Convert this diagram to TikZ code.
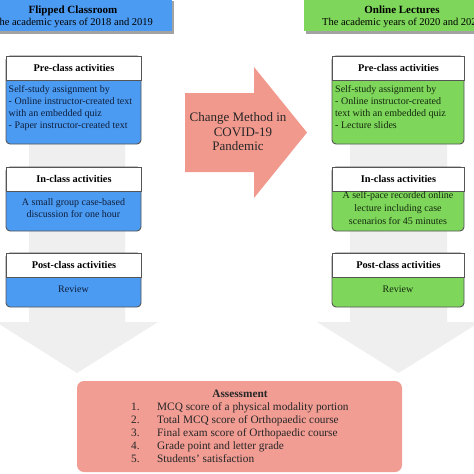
\documentclass[tikz,border=0pt]{standalone}
\usepackage{fontspec}
\setmainfont{Liberation Serif}
\usetikzlibrary{shadows}
\definecolor{fcblue}{HTML}{4C9BF2}
\definecolor{olgreen}{HTML}{7ED65B}
\definecolor{salmonarrow}{HTML}{F2998E}
\definecolor{asspink}{HTML}{F19D94}
\definecolor{grayband}{HTML}{EFEFEF}
\definecolor{edgegray}{HTML}{555555}
\definecolor{bluetext}{HTML}{0E1E3C}
\definecolor{greentext}{HTML}{14280E}
\tikzset{
  bodybox/.style={draw=edgegray, line width=0.9pt, rounded corners=4pt},
  hdrbox/.style={draw=edgegray, line width=0.9pt, fill=white, minimum width=135pt,
    minimum height=24pt, inner sep=0pt, anchor=north west,
    font=\bfseries\fontsize{10.3}{11}\selectfont},
  btxt/.style={font=\fontsize{10}{12}\selectfont, inner sep=0pt},
  titlebox/.style={minimum height=33pt, inner sep=0pt,
    drop shadow={shadow xshift=2pt, shadow yshift=-3pt, fill=black!60, opacity=.6}},
  titletxt/.style={align=center, inner sep=0pt, font=\fontsize{10.5}{12}\selectfont},
  bigarrow/.style={fill=grayband, draw=none}
}
\begin{document}
\begin{tikzpicture}[x=1pt,y=-1pt]
\useasboundingbox (0,0) rectangle (474,474);
\clip (0,0) rectangle (474,474);
\fill[white] (0,0) rectangle (474,474);

% gray flow arrows
\path[bigarrow] (29,60) -- (125,60) -- (125,322) -- (158,322) -- (77,373) -- (-4,322) -- (29,322) -- cycle;
\path[bigarrow] (350,60) -- (447,60) -- (447,322) -- (480,322) -- (398.5,373) -- (317,322) -- (350,322) -- cycle;

% title boxes
\node[titlebox, fill=fcblue, minimum width=198pt] (ltitle) at (73,14.5) {};
\node[titletxt] (ltitletxt) at (73,17) {{\bfseries\fontsize{11}{12}\selectfont Flipped Classroom}\\The academic years of 2018 and 2019};
\node[titlebox, fill=olgreen, minimum width=196pt] (rtitle) at (402,14.5) {};
\node[titletxt] (rtitletxt) at (402,17) {{\bfseries\fontsize{11}{12}\selectfont Online Lectures}\\The academic years of 2020 and 2021};

% left column
\draw[bodybox, fill=fcblue] (6,56) rectangle (141,144);
\node[hdrbox] (lpreh) at (6,56) {Pre-class activities};
\node[btxt, text=bluetext, anchor=north west, align=left] (lpreb) at (8.5,85)
  {Self-study assignment by\\- Online instructor-created text\\with an embedded quiz\\- Paper instructor-created text};

\draw[bodybox, fill=fcblue] (6,167) rectangle (141,231);
\node[hdrbox] (linh) at (6,167) {In-class activities};
\node[btxt, text=bluetext, align=center] (linb) at (73.5,208.5)
  {A small group case-based\\discussion for one hour};

\draw[bodybox, fill=fcblue] (6,253) rectangle (141,307);
\node[hdrbox] (lposth) at (6,253) {Post-class activities};
\node[btxt, text=bluetext] (lpostb) at (73.5,289) {Review};

% right column
\draw[bodybox, fill=olgreen] (332,56) rectangle (464,144);
\node[hdrbox, minimum width=132pt] (rpreh) at (332,56) {Pre-class activities};
\node[btxt, text=greentext, anchor=north west, align=left] (rpreb) at (335,85)
  {Self-study assignment by\\- Online instructor-created\\text with an embedded quiz\\- Lecture slides};

\draw[bodybox, fill=olgreen] (332,167) rectangle (464,231);
\node[hdrbox, minimum width=132pt] (rinh) at (332,167) {In-class activities};
\node[btxt, text=greentext, align=center, font=\fontsize{10}{13}\selectfont] (rinb) at (398,208.5)
  {A self-pace recorded online\\lecture including case\\scenarios for 45 minutes};

\draw[bodybox, fill=olgreen] (332,253) rectangle (464,307);
\node[hdrbox, minimum width=132pt] (rposth) at (332,253) {Post-class activities};
\node[btxt, text=greentext] (rpostb) at (398,289) {Review};

% change arrow
\fill[salmonarrow] (185,93) -- (254,93) -- (254,67) -- (307,132.5) -- (254,198) -- (254,172) -- (185,172) -- cycle;
\node[align=center, inner sep=0pt, font=\fontsize{13}{14.5}\selectfont, text=black!85] (changetxt) at (238,132)
  {Change Method in\\\hspace*{10pt}COVID-19\\Pandemic};

% assessment
\fill[asspink, rounded corners=7pt] (77,381) rectangle (402,472);
\node[inner sep=0pt, font=\bfseries\fontsize{11.3}{13}\selectfont, text=black!85] (asstitle) at (240,394) {Assessment};
\node[inner sep=0pt, anchor=north west, font=\fontsize{11.3}{13}\selectfont, text=black!85] (asslist) at (131,401)
  {\begin{tabular}{@{}p{26pt}@{}l@{}}
  1. & MCQ score of a physical modality portion\\
  2. & Total MCQ score of Orthopaedic course\\
  3. & Final exam score of Orthopaedic course\\
  4. & Grade point and letter grade\\
  5. & Students' satisfaction
  \end{tabular}};
\end{tikzpicture}
\end{document}
